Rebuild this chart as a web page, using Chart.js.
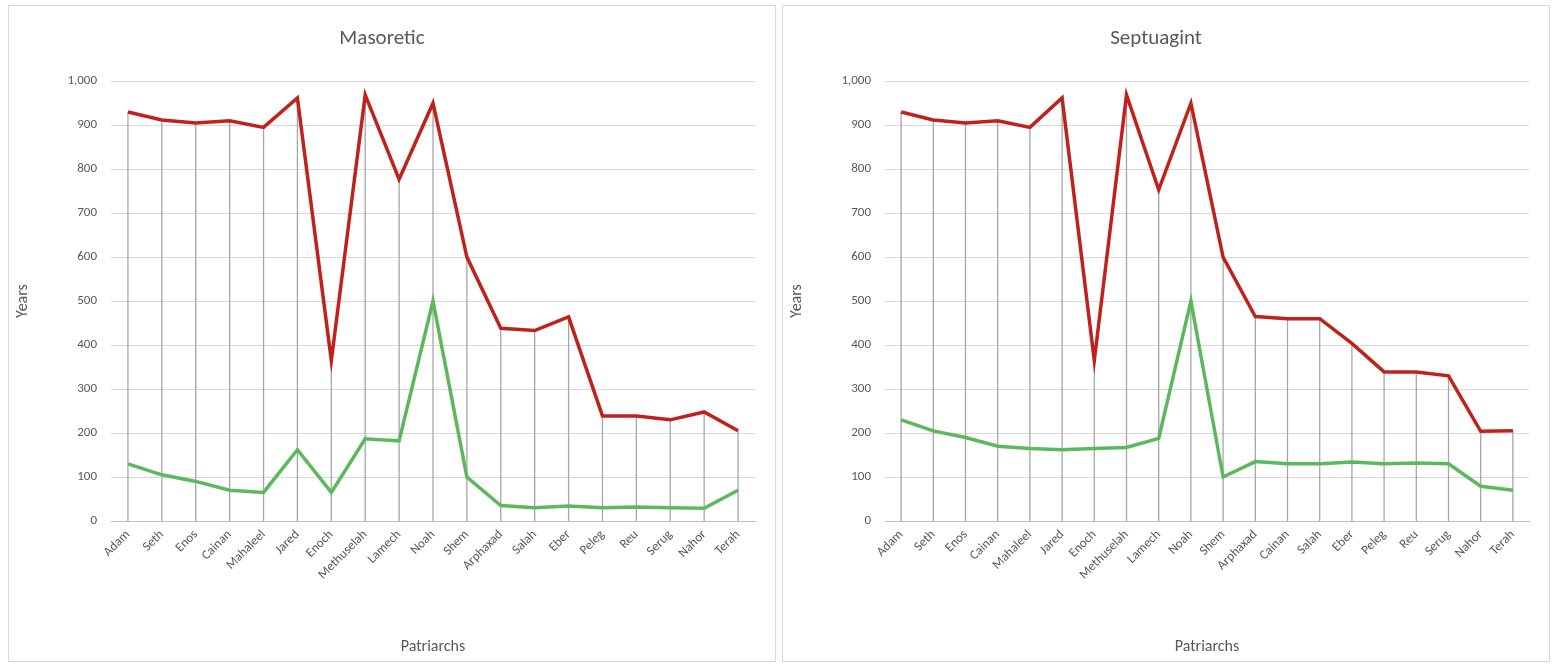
<!DOCTYPE html>
<html><head><meta charset="utf-8">
<script src="https://cdn.jsdelivr.net/npm/chart.js@4"></script>
<style>
body{margin:0;background:#fff;width:1558px;height:668px;position:relative;font-family:Calibri,Carlito,"Open Sans",sans-serif}
.p{position:absolute;top:5px;width:766px;height:655px;border:1px solid #d9d9d9;background:#fff}
</style></head><body>
<div class="p" style="left:8px"><canvas id="c1"></canvas></div>
<div class="p" style="left:782px"><canvas id="c2"></canvas></div>
<script>
const masoreticNames=["Adam","Seth","Enos","Cainan","Mahaleel","Jared","Enoch","Methuselah","Lamech","Noah","Shem","Arphaxad","Salah","Eber","Peleg","Reu","Serug","Nahor","Terah"];
const masoreticLifespan=[930,912,905,910,895,962,365,969,777,950,600,438,433,464,239,239,230,248,205];
const masoreticFatherhood=[130,105,90,70,65,162,65,187,182,500,100,35,30,34,30,32,30,29,70];
const septuagintNames=["Adam","Seth","Enos","Cainan","Mahaleel","Jared","Enoch","Methuselah","Lamech","Noah","Shem","Arphaxad","Cainan","Salah","Eber","Peleg","Reu","Serug","Nahor","Terah"];
const septuagintLifespan=[930,912,905,910,895,962,365,969,753,950,600,465,460,460,404,339,339,330,204,205];
const septuagintFatherhood=[230,205,190,170,165,162,165,167,188,500,100,135,130,130,134,130,132,130,79,70];
const yTicks=[0,100,200,300,400,500,600,700,800,900,1000];

const dropLines={id:'drop',beforeDatasetsDraw(ch){
  const c=ch.ctx,x=ch.scales.x,y=ch.scales.y,d=ch.data.datasets[0].data;
  c.save();c.strokeStyle='#a6a6a6';c.lineWidth=1.3;
  d.forEach((v,i)=>{const px=x.getPixelForValue(i);c.beginPath();c.moveTo(px,y.getPixelForValue(v));c.lineTo(px,y.getPixelForValue(0));c.stroke();});
  c.restore();}};

function make(id,title,names,life,father){
  const tc='#595959',f="Calibri,Carlito,'Open Sans',sans-serif";
  new Chart(document.getElementById(id),{type:'line',
   data:{labels:names,datasets:[
    {data:life,borderColor:'#c0221b',borderWidth:3.5,pointRadius:0,tension:0},
    {data:father,borderColor:'#5cb85c',borderWidth:3.5,pointRadius:0,tension:0}]},
   options:{responsive:false,animation:false,devicePixelRatio:1,
    layout:{padding:{left:0,right:20,top:0,bottom:0}},
    plugins:{legend:{display:false},tooltip:{enabled:false},
     title:{display:true,text:title,color:tc,font:{size:21,family:f,weight:'normal'},padding:{top:20,bottom:30}}},
    scales:{
     x:{offset:true,grid:{display:false,drawTicks:false},border:{color:'#bfbfbf'},
      ticks:{color:tc,font:{size:13,family:f},maxRotation:45,minRotation:45,padding:6,autoSkip:false},
      title:{display:true,text:'Patriarchs',color:tc,font:{size:16,family:f},padding:{top:8}},
      afterFit(s){s.height=140;}},
     y:{min:0,max:1000,afterBuildTicks(s){s.ticks=yTicks.map(v=>({value:v}));},
      grid:{color:'#d9d9d9',drawTicks:false},border:{display:false},
      ticks:{color:tc,font:{size:13,family:f},padding:14},
      title:{display:true,text:'Years',color:tc,font:{size:16,family:f},padding:{bottom:8}},
      afterFit(s){s.width=102;}}}},
   plugins:[dropLines]});
}
for(const id of ['c1','c2']){const cv=document.getElementById(id);cv.width=766;cv.height=655;}
make('c1','Masoretic',masoreticNames,masoreticLifespan,masoreticFatherhood);
make('c2','Septuagint',septuagintNames,septuagintLifespan,septuagintFatherhood);
</script></body></html>
